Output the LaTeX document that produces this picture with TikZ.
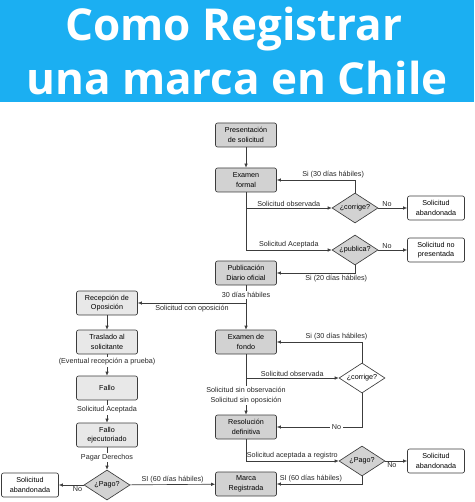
\documentclass[tikz,border=0pt]{standalone}
\usepackage{fontspec}
\setmainfont{Liberation Sans}
\newfontfamily\titlefont{Open Sans}
\usepackage{tikz}
\usetikzlibrary{shapes.geometric,arrows.meta}
\definecolor{bandblue}{HTML}{1BAFF2}
\definecolor{boxgray}{HTML}{D2D2D2}
\definecolor{boxlight}{HTML}{E8E8E8}
\definecolor{edgegray}{HTML}{3C3C3C}
\begin{document}
\begin{tikzpicture}[x=1pt, y=-1pt, font=\fontsize{7.2}{9.5}\selectfont,
	box/.style={draw=edgegray, fill=boxgray, rounded corners=2pt, line width=0.65pt,
		minimum width=61pt, minimum height=24pt, align=center, inner sep=1pt},
	lbox/.style={box, fill=boxlight},
	wbox/.style={box, fill=white, minimum width=57pt},
	decision/.style={draw=edgegray, fill=boxgray, diamond, aspect=1.5, inner sep=0pt,
		line width=0.65pt, minimum width=46pt, minimum height=30pt},
	lbl/.style={inner sep=1.5pt, text=black!85},
	flow/.style={-{Latex[length=4pt,width=3.5pt]}, line width=0.65pt, draw=edgegray}]
	\useasboundingbox (0,0) rectangle (474,502);
	\fill[bandblue] (0,0) rectangle (474,102);
	\node[text=white, font=\titlefont\bfseries\fontsize{44}{50}\selectfont] (t1) at (234,29) {Como Registrar};
	\node[text=white, font=\titlefont\bfseries\fontsize{44}{50}\selectfont] (t2) at (237,78) {una marca en Chile};

	% centre column
	\node[box] (ps) at (246,135) {Presentación\\de solicitud};
	\node[box] (ef) at (246,180) {Examen\\formal};
	\node[box] (pd) at (246,273) {Publicación\\Diario oficial};
	\node[box] (ed) at (246,342) {Examen de\\fondo};
	\node[box] (rd) at (246,427) {Resolución\\definitiva};
	\node[box] (mr) at (246,484) {Marca\\Registrada};

	% decisions
	\node[decision] (c1) at (355,208) {¿corrige?};
	\node[decision] (pb) at (355,250) {¿publica?};
	\node[decision, fill=white] (c2) at (362,378) {¿corrige?};
	\node[decision] (p2) at (362,461) {¿Pago?};
	\node[decision] (p1) at (107,485) {¿Pago?};

	% end states
	\node[wbox] (ab1) at (436,208) {Solicitud\\abandonada};
	\node[wbox] (np) at (436,250) {Solicitud no\\presentada};
	\node[wbox] (ab3) at (436,461) {Solicitud\\abandonada};
	\node[wbox] (ab2) at (30,485) {Solicitud\\abandonada};

	% left column
	\node[lbox] (ro) at (107,303) {Recepción de\\Oposición};
	\node[lbox] (ts) at (107,342) {Traslado al\\solicitante};
	\node[lbox] (fa) at (107,388) {Fallo};
	\node[lbox] (fe) at (107,435) {Fallo\\ejecutoriado};

	% examen formal
	\draw[flow] (ps) -- (ef);
	\draw[flow] (c1.north) |- (ef.east) node[lbl, pos=0.64, above] {Si (30 días hábiles)};
	\draw[flow] (ef.south) |- (c1.west) node[lbl, pos=0.75, above] {Solicitud observada};
	\draw[flow] (ef.south) |- (pb.west) node[lbl, pos=0.75, above] {Solicitud Aceptada};
	\draw[flow] (c1) -- (ab1) node[lbl, pos=0.3, above] {No};
	\draw[flow] (pb) -- (np) node[lbl, pos=0.3, above] {No};
	\draw[flow] (pb.south) |- (pd.east) node[lbl, pos=0.62, below] {Si (20 días hábiles)};

	% oposicion
	\draw[flow] (pd) -- (ed) node[lbl, pos=0.22, fill=white] {30 días hábiles};
	\draw[flow] (pd.south |- ro.east) -- (ro.east) node[lbl, midway, below] {Solicitud con oposición};
	\draw[flow] (ro) -- (ts);
	\draw[flow] (ts) -- (fa) node[lbl, pos=0.36, fill=white] {(Eventual recepción a prueba)};
	\draw[flow] (fa) -- (fe) node[lbl, pos=0.43, fill=white] {Solicitud Aceptada};
	\draw[flow] (fe) -- (p1) node[lbl, pos=0.45, fill=white] {Pagar Derechos};
	\draw[flow] (p1) -- (ab2) node[lbl, pos=0.25, below] {No};
	\draw[flow] (p1) -- (mr) node[lbl, midway, above] {SI (60 días hábiles)};

	% examen de fondo
	\draw[flow] (c2.north) |- (ed.east) node[lbl, pos=0.65, above] {Si (30 días hábiles)};
	\draw[flow] (ed.south) |- (c2.west) node[lbl, pos=0.75, above] {Solicitud observada};
	\draw[flow] (ed) -- (rd) node[lbl, pos=0.68, fill=white, align=center] {Solicitud sin observación\\Solicitud sin oposición};
	\draw[flow] (c2.south) |- (rd.east) node[lbl, pos=0.65, fill=white] {No};
	\draw[flow] (rd.south) |- (p2.west) node[lbl, pos=0.75, above] {Solicitud aceptada a registro};
	\draw[flow] (p2) -- (ab3) node[lbl, pos=0.3, below] {No};
	\draw[flow] (p2.south) |- (mr.east) node[lbl, pos=0.8, above] {SI (60 días hábiles)};
\end{tikzpicture}
\end{document}
